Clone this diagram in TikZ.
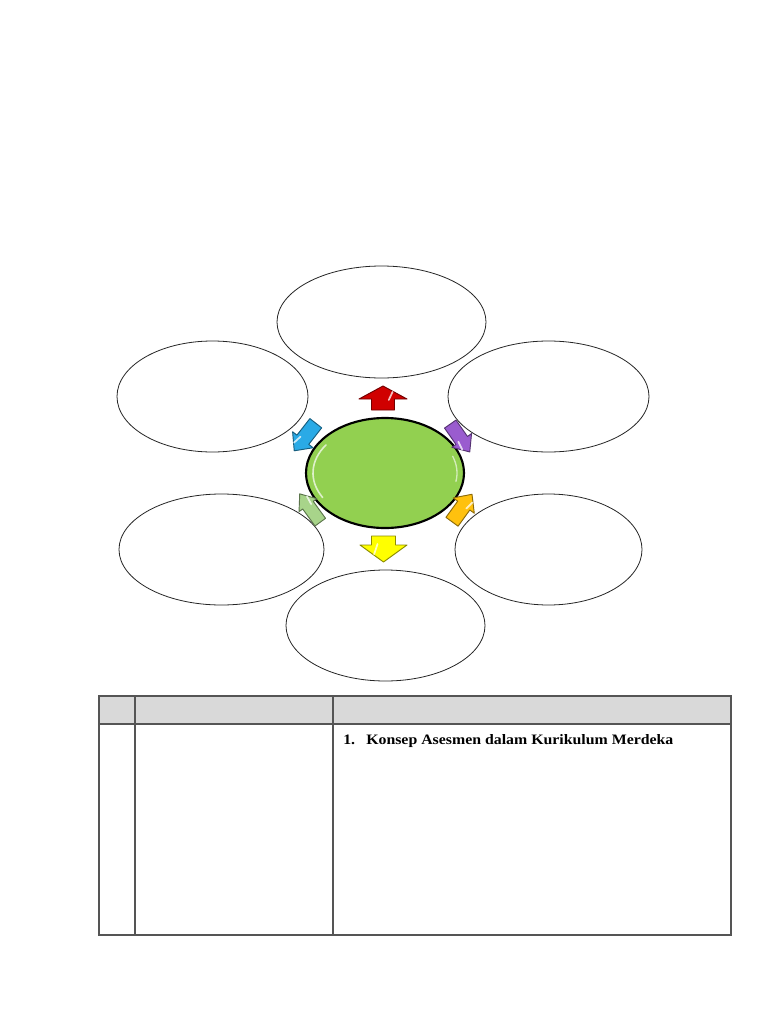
\documentclass[tikz,border=0pt]{standalone}
\usepackage{fontspec}
\setmainfont{Liberation Serif}
\usetikzlibrary{shapes.geometric}
\definecolor{arRed}{HTML}{D00000}
\definecolor{arYellow}{HTML}{FFFF00}
\definecolor{arBlue}{HTML}{2AAAE6}
\definecolor{arGreen}{HTML}{A8D48A}
\definecolor{arPurple}{HTML}{9A5CCF}
\definecolor{arOrange}{HTML}{FFC10E}
\definecolor{hub}{HTML}{92D050}
\definecolor{tline}{HTML}{555555}
\definecolor{thead}{HTML}{D9D9D9}
\newcommand\blockarr[8]{%
  \path[draw=#8!55!black, fill=#8, line width=0.7pt, line join=round, shift={(#1,#2)}, rotate=#3]
    ({-#4/2},{-#6/2}) -- ({#4/2-#7},{-#6/2}) -- ({#4/2-#7},{-#5/2}) -- ({#4/2},0)
    -- ({#4/2-#7},{#5/2}) -- ({#4/2-#7},{#6/2}) -- ({-#4/2},{#6/2}) -- cycle;
  \path[draw=white, line width=1.3pt, line cap=round, opacity=0.75, shift={(#1,#2)}, rotate=#3]
    ({#4/2-#7-1},{#6/4}) -- ({#4/2-#7*0.45},{#5/5});
}
\tikzset{
  bubble/.style={ellipse, draw=black!85, line width=0.6pt, fill=white, inner sep=0pt, outer sep=0pt},
  tablerule/.style={draw=tline, line width=1.1pt},
  celltext/.style={anchor=base west, inner sep=0pt, font=\fontsize{10.8pt}{12pt}\bfseries\addfontfeature{FakeStretch=1.1}}
}
\begin{document}
\begin{tikzpicture}[x=0.75pt,y=-0.75pt]
\useasboundingbox[fill=white] (0,0) rectangle (768,1024);
% outer bubbles
\node[bubble, minimum width=156.75pt, minimum height=84pt] (top) at (381.5,322) {};
\node[bubble, minimum width=143.25pt, minimum height=83.25pt] (ul) at (212.5,396.5) {};
\node[bubble, minimum width=150.75pt, minimum height=83.25pt] (ur) at (548.5,396.5) {};
\node[bubble, minimum width=153.75pt, minimum height=83.25pt] (ll) at (221.5,549.5) {};
\node[bubble, minimum width=140.25pt, minimum height=83.25pt] (lr) at (548.5,549.5) {};
\node[bubble, minimum width=149.25pt, minimum height=83.25pt] (bot) at (385.5,625.5) {};
% hub
\node[ellipse, draw=black, line width=1.6pt, fill=hub, inner sep=0pt, minimum width=118.5pt, minimum height=82.5pt] (hub) at (385,473) {};
\draw[white, line width=1.2pt, opacity=0.7, line cap=round] (hub.center) ++(150:72 and 49) arc[start angle=150, end angle=215, x radius=72, y radius=49];
\draw[white, line width=1pt, opacity=0.6, line cap=round] (hub.center) ++(-20:72 and 49) arc[start angle=-20, end angle=10, x radius=72, y radius=49];
% arrows
\blockarr{383}{398}{90}{24}{48}{23}{13}{arRed}
\blockarr{383.5}{549}{270}{26}{47}{24}{17}{arYellow}
\blockarr{305}{437}{232}{35}{26}{15}{14}{arBlue}
\blockarr{310}{508}{126}{35}{22}{13}{14}{arGreen}
\blockarr{460}{438}{-55}{34}{24}{14}{14}{arPurple}
\blockarr{462}{508}{54}{34}{26}{15}{14}{arOrange}
% table
\fill[thead] (99,696) rectangle (731,724);
\draw[tablerule] (99,696) rectangle (731,935);
\draw[tablerule] (99,724) -- (731,724);
\draw[tablerule] (135,696) -- (135,935);
\draw[tablerule] (333,696) -- (333,935);
\node[celltext] (num) at (343,744) {1.};
\node[celltext] (item) at (366,744) {Konsep Asesmen dalam Kurikulum Merdeka};
\end{tikzpicture}
\end{document}
